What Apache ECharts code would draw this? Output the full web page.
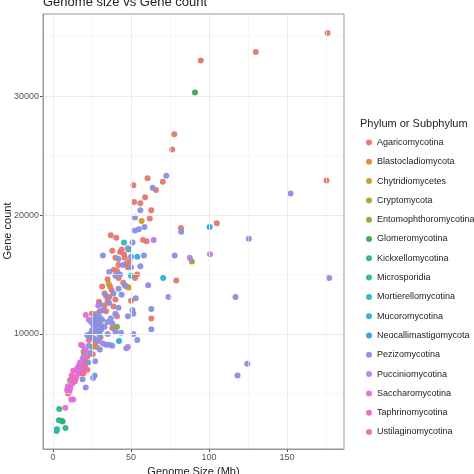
<!DOCTYPE html>
<html><head><meta charset="utf-8">
<script src="https://cdn.jsdelivr.net/npm/echarts@6/dist/echarts.min.js"></script>
<style>html,body{margin:0;padding:0;background:#fff}#c{width:474px;height:474px}</style>
</head><body><div id="c"></div>
<script>
const groups = ["Agaricomycotina","Blastocladiomycota","Chytridiomycetes","Cryptomycota","Entomophthoromycotina","Glomeromycotina","Kickxellomycotina","Microsporidia","Mortierellomycotina","Mucoromycotina","Neocallimastigomycota","Pezizomycotina","Pucciniomycotina","Saccharomycotina","Taphrinomycotina","Ustilaginomycotina"];
const colors = ["#E4776F","#D98A3A","#C99A2A","#AFA22A","#8EA83A","#3FA84A","#2DB57E","#2DB7A0","#2DB6BC","#2DB0D4","#2D9FE0","#8890E0","#B780E8","#E36ED8","#EE69B8","#F06A96"];
const xTicks = [0,50,100,150];
const xMinor = [25,75,125,175];
const yTicks = [10000,20000,30000];
const yMinor = [5000,15000,25000,35000];
const agarico = [[176,35300],[130,33700],[94.7,33000],[77.7,26800],[76.4,25500],[175.3,22900],[60.6,23100],[51.5,22500],[70.4,22800],[66,22100],[52,21100],[56,21000],[59,21500],[63,20400],[62,19700],[105,19300],[82,18900],[37,18300],[40.6,18100],[57.7,17900],[38,17000],[40,16400],[42,15800],[41,15300],[44,17100],[46,16400],[49,16100],[48,15600],[79,14500],[52.6,14700],[35,14600],[36.6,14000],[31.5,14000],[45,14300],[47,14000],[33,13400],[35,12800],[38.8,12300],[30,11900],[41,11500],[50,12800],[63,11300],[25,11700],[23,9500],[28,8900],[25.5,8300],[30.4,9700],[19.6,7200],[17.4,6700],[9.6,5000],[36,13100],[39,15400],[43,16900],[45.5,16700],[33,12400],[31,10700],[38,10500],[34,11900],[27,9300],[22,8100],[20.5,7700],[47,15900],[42,14700],[37.5,13700],[40,12900],[60,17800],[54,15000],[29.5,12700],[26,10100]];
const blasto = [];
const chytrid = [[56.8,19500],[48.5,13900],[35.7,14200]];
const crypto = [];
const entomo = [[89,16100],[19.6,8500],[10.9,6100],[25,8900],[41,10600]];
const glomero = [[91,30300]];
const kickx = [[4,3700],[3.8,2750],[5.5,2700],[6.2,2650],[8,2100]];
const microsp = [[2,1950],[2.3,1850],[2.6,2000]];
const mortier = [[45.5,17700],[48.5,17100],[50,14900],[27,11000]];
const mucoro = [[70.6,14700],[54,16500],[42.3,9400],[30,10300]];
const neocal = [[100.4,19000],[24,10000]];
const pezizo = [[152.3,21800],[125.5,18000],[177,14700],[117,13100],[118.3,6500],[124.5,7500],[72.6,23300],[63.9,22300],[56,20400],[52.6,19800],[58.6,19000],[52.6,18700],[55,18800],[82.2,18600],[78,16600],[58.3,16600],[56,15700],[51,17700],[48,17200],[32,16600],[61,14100],[74,13100],[63,12100],[51,12000],[51.5,11700],[48,11500],[63,10400],[51.5,10000],[54,9500],[43.6,10100],[47,8800],[25.7,6300],[26.7,6500],[21,5500],[19,6200],[50,15600],[43,15000],[38.7,13400],[34,13200],[36,12600],[30,12500],[32,12000],[28,11200],[29,10800],[27,10500],[26,10700],[28.5,10200],[30,9900],[31,10400],[25,10300],[24,9800],[26.5,9600],[29,9400],[32,9200],[34,9100],[36,9100],[38,9000],[22,9900],[23,9000],[21,8600],[24,8400],[27,7700],[19,7900],[22.5,7600],[35,11000],[37,11300],[40,11700],[38,10900],[33,10600],[40,10200],[42,12200],[44,13300],[46,14100],[40,14900],[36,15200],[42,16300],[45,15800],[50,16500],[53,13000],[28,11700],[30,11400],[26,11200],[24.5,11000],[27.5,11400],[29.5,11100],[31.5,11200],[35,10000],[42,13800],[30,8700],[20,7100],[17,7400]];
const puccin = [[87.7,16400],[100.6,16700],[64.5,17900],[48,8900],[23,11200],[29,12400],[19,9000],[17,7100]];
const saccharo = [[21,11600],[18,9100],[7.9,3800],[11.7,4500],[13,4500],[10,5300],[11,5400],[9,5300],[12.2,5800],[14.3,6100],[13,6900],[14.9,7000],[16.4,6800],[18.5,6900],[17.4,7600],[19.6,8100],[20.6,8700],[9.5,5600],[15,6400],[12,6200],[10.5,5100],[16,7200]];
const taphrino = [[12,6500],[14,6000]];
const ustilago = [[19.5,6700],[20.5,7300],[22,7000]];
const seriesData = [agarico,blasto,chytrid,crypto,entomo,glomero,kickx,microsp,mortier,mucoro,neocal,pezizo,puccin,saccharo,taphrino,ustilago];

const chart = echarts.init(document.getElementById('c'));
const gl = (c,w)=>({lineStyle:{color:c,width:w,type:'solid'}});
const series = groups.map((g,i)=>({name:g,type:'scatter',data:seriesData[i],symbolSize:6,itemStyle:{color:colors[i],opacity:0.95},z:3}));
series.push({type:'scatter',data:[],silent:true,z:1,markLine:{silent:true,symbol:'none',label:{show:false},animation:false,
  data:[...xMinor.map(v=>({xAxis:v,...gl('#f2f2f2',0.6)})),...yMinor.map(v=>({yAxis:v,...gl('#f2f2f2',0.6)})),
        ...xTicks.map(v=>({xAxis:v,...gl('#ebebeb',1)})),...yTicks.map(v=>({yAxis:v,...gl('#ebebeb',1)}))]}});
chart.setOption({
  animation:false,
  color:colors,
  grid:{left:43,right:130,top:14,bottom:25,containLabel:false,outerBoundsMode:'none'},
  xAxis:{type:'value',min:-6.4,max:186.5,splitNumber:4,
    axisLine:{show:true,onZero:false,lineStyle:{color:'#999'}},axisTick:{show:true,length:3,lineStyle:{color:'#555'}},
    splitLine:{show:false},
    axisLabel:{color:'#555',fontSize:9,margin:4,showMinLabel:false,showMaxLabel:false,formatter:v=>xTicks.includes(v)?String(v):''},
    name:'Genome Size (Mb)',nameLocation:'middle',nameGap:17,nameTextStyle:{color:'#222',fontSize:11}},
  yAxis:{type:'value',min:330,max:36900,splitNumber:4,
    axisLine:{show:true,onZero:false,lineStyle:{color:'#999'}},axisTick:{show:true,length:3,lineStyle:{color:'#555'}},
    splitLine:{show:false},
    axisLabel:{color:'#555',fontSize:9,margin:4,showMinLabel:false,showMaxLabel:false,formatter:v=>yTicks.includes(v)?String(v):''}},
  legend:{orient:'vertical',left:361,top:133,data:groups,icon:'circle',itemWidth:6,itemHeight:6,itemGap:10.3,
    textStyle:{fontSize:9,color:'#222'},selectedMode:false},
  graphic:[
    {type:'rect',shape:{x:43,y:14,width:301,height:435},style:{fill:'none',stroke:'#999',lineWidth:1},z:10,silent:true},
    {type:'text',x:8,y:231,rotation:Math.PI/2,style:{text:'Gene count',fontSize:11,fill:'#222',align:'center',verticalAlign:'middle'}},
    {type:'text',left:360,top:118,style:{text:'Phylum or Subphylum',fontSize:11,fill:'#222'}},
    {type:'text',left:43,top:-4,style:{text:'Genome size vs Gene count',fontSize:13,fill:'#222'}}
  ],
  series
});
</script></body></html>
